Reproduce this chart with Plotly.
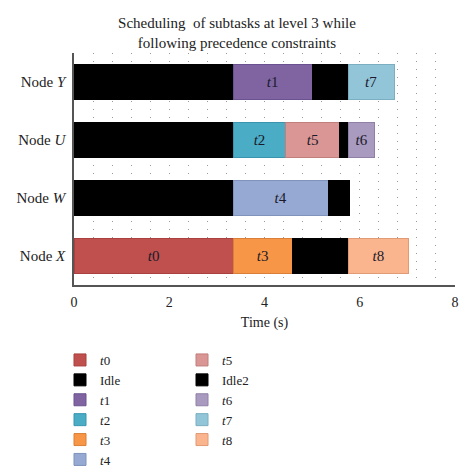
import plotly.graph_objects as go

nodes = ["Node <i>X</i>", "Node <i>W</i>", "Node <i>U</i>", "Node <i>Y</i>"]

# durations (s) per segment, per node (order: X, W, U, Y); None = absent
series_names = ["<i>t</i>0", "Idle", "<i>t</i>1", "<i>t</i>2", "<i>t</i>3", "<i>t</i>4",
                "<i>t</i>5", "Idle2", "<i>t</i>6", "<i>t</i>7", "<i>t</i>8"]
t0 = [3.34, None, None, None]
idle = [None, 3.34, 3.34, 3.34]
t1 = [None, None, None, 1.66]
t2 = [None, None, 1.11, None]
t3 = [1.24, None, None, None]
t4 = [None, 2.0, None, None]
t5 = [None, None, 1.12, None]
idle2 = [1.18, 0.44, 0.19, 0.76]
t6 = [None, None, 0.56, None]
t7 = [None, None, None, 0.96]
t8 = [1.26, None, None, None]
series_values = [t0, idle, t1, t2, t3, t4, t5, idle2, t6, t7, t8]

colors = ["#c0504d", "#000000", "#8064a2", "#4bacc6", "#f79646", "#95a9d2",
          "#d99694", "#000000", "#a99bbf", "#93c5d8", "#fab48e"]
edges = ["#a8403d", "#000000", "#6a5290", "#3a94ad", "#d98038", "#7f93bb",
         "#c07e7c", "#000000", "#9080a8", "#7aaec0", "#e09a75"]

FONT = "Liberation Serif"
fig = go.Figure()
for i, (name, vals) in enumerate(zip(series_names, series_values)):
    is_idle = name.startswith("Idle")
    fig.add_trace(go.Bar(
        y=nodes, x=vals, orientation="h", name=name,
        marker=dict(color=colors[i], line=dict(color=edges[i], width=1)),
        text=None if is_idle else [name if v is not None else "" for v in vals],
        textposition="inside", insidetextanchor="middle",
        textfont=dict(family=FONT, size=15, color="#1a1a2a"),
        legend="legend" if i < 6 else "legend2",
    ))

fig.update_layout(
    width=474, height=474,
    barmode="stack", bargap=0.41,
    uniformtext=dict(minsize=15, mode="show"),
    paper_bgcolor="white", plot_bgcolor="white",
    margin=dict(l=74, r=19, t=53, b=189, autoexpand=False),
    font=dict(family=FONT, size=14, color="#222"),
    title=dict(text="Scheduling  of subtasks at level 3 while<br>following precedence constraints",
               x=0.5, xanchor="center", y=1 - 28 / 474, yanchor="middle",
               font=dict(family=FONT, size=15, color="#222")),
    xaxis=dict(range=[0, 8], tickvals=[0, 2, 4, 6, 8], showgrid=True,
               gridcolor="#999", griddash="1px,7px", gridwidth=1,
               minor=dict(dtick=0.4, showgrid=True, gridcolor="#999", griddash="1px,7px", gridwidth=1),
               showline=True, linecolor="#555", linewidth=2, zeroline=False,
               ticks="outside", ticklen=3, tickcolor="white", tickfont=dict(size=14),
               title=dict(text="Time (s)", font=dict(size=14), standoff=8)),
    yaxis=dict(showline=True, linecolor="#555", linewidth=2, ticks="",
               showgrid=False, range=[-0.5, 3.5], tickfont=dict(size=15),
               ticksuffix=" "),
    legend=dict(x=60 / 474, xref="container", xanchor="left",
                y=1 - 345 / 474, yref="container", yanchor="top",
                font=dict(size=13), tracegroupgap=0, traceorder="normal"),
    legend2=dict(x=182 / 474, xref="container", xanchor="left",
                 y=1 - 345 / 474, yref="container", yanchor="top",
                 font=dict(size=13), tracegroupgap=0, traceorder="normal"),
)

fig.write_html("out.html")
